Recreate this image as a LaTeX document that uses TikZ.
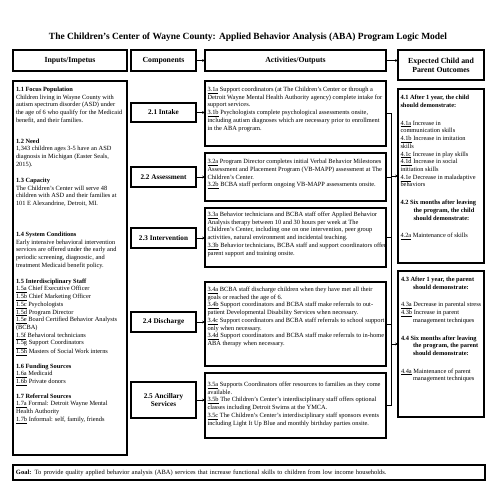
\documentclass[tikz,border=0pt]{standalone}
\usepackage{fontspec}
\setmainfont{Liberation Serif}
\usetikzlibrary{arrows.meta}
\newcommand\myBody{\fontsize{6.4}{7.75}\selectfont}
\newcommand\myHead{\fontsize{7.8}{9}\selectfont\bfseries}
\newcommand\myComp{\fontsize{7.2}{8.4}\selectfont\bfseries}
\newcommand\lbl[1]{\underline{#1}}
\begin{document}
\begin{tikzpicture}[x=1bp,y=-1bp,
  box/.style={draw, line width=1.3bp, inner sep=0pt, outer sep=0pt},
  hdr/.style={box, line width=1.7bp, font=\myHead, align=center},
  comp/.style={box, font=\myComp, align=center, minimum width=65bp},
  actbox/.style={box, minimum width=181bp},
  outbox/.style={box, minimum width=86bp},
  txt/.style={anchor=north west, inner sep=0pt, outer sep=0pt, align=left, font=\myBody},
  conn/.style={line width=0.6bp},
  arr/.style={line width=0.6bp, -{Stealth[length=2.8bp,width=2.6bp]}}]
\fill[white] (0,0) rectangle (495,495);
\useasboundingbox (0,0) rectangle (495,495);

% title
\node[font=\fontsize{9.5}{11}\selectfont\bfseries] (title) at (248,37) {The Children's Center of Wayne County: Applied Behavior Analysis (ABA) Program Logic Model};

% headers
\node[hdr, minimum width=114bp, minimum height=21bp] (hin) at (70,60.5) {Inputs/Impetus};
\node[hdr, minimum width=65bp, minimum height=21bp] (hcomp) at (163.5,60.5) {Components};
\node[hdr, minimum width=181bp, minimum height=21bp] (hact) at (295.5,60.5) {Activities/Outputs};
\node[hdr, minimum width=86bp, minimum height=30bp] (hout) at (441,65) {Expected Child and\\Parent Outcomes};

% inputs column
\node[box, minimum width=114bp, minimum height=374bp] (inp) at (70,268) {};
\node[txt] (t11) at (16,87) {\textbf{1.1 Focus Population}\\Children living in Wayne County with\\autism spectrum disorder (ASD) under\\the age of 6 who qualify for the Medicaid\\benefit, and their families.};
\node[txt] (t12) at (16,138.7) {\textbf{1.2 Need}\\1,343 children ages 3-5 have an ASD\\diagnosis in Michigan (Easter Seals,\\2015).};
\node[txt] (t13) at (16,178) {\textbf{1.3 Capacity}\\The Children's Center will serve 48\\children with ASD and their families at\\101 E Alexandrine, Detroit, MI.};
\node[txt] (t14) at (16,232) {\textbf{1.4 System Conditions}\\Early intensive behavioral intervention\\services are offered under the early and\\periodic screening, diagnostic, and\\treatment Medicaid benefit policy.};
\node[txt] (t15) at (16,278.7) {\textbf{1.5 Interdisciplinary Staff}\\\lbl{1.5a} Chief Executive Officer\\\lbl{1.5b} Chief Marketing Officer\\\lbl{1.5c} Psychologists\\\lbl{1.5d} Program Director\\\lbl{1.5e} Board Certified Behavior Analysts\\(BCBA)\\\lbl{1.5f} Behavioral technicians\\\lbl{1.5g} Support Coordinators\\\lbl{1.5h} Masters of Social Work interns};
\node[txt] (t16) at (16,363.7) {\textbf{1.6 Funding Sources}\\\lbl{1.6a} Medicaid\\\lbl{1.6b} Private donors};
\node[txt] (t17) at (16,393.7) {\textbf{1.7 Referral Sources}\\\lbl{1.7a} Formal: Detroit Wayne Mental\\Health Authority\\\lbl{1.7b} Informal: self, family, friends};

% components
\node[comp, minimum height=19bp] (c1) at (163.5,112.5) {2.1 Intake};
\node[comp, minimum height=20bp] (c2) at (163.5,177) {2.2 Assessment};
\node[comp, minimum height=20bp] (c3) at (163.5,238) {2.3 Intervention};
\node[comp, minimum height=20bp] (c4) at (163.5,322) {2.4 Discharge};
\node[comp, minimum height=36bp] (c5) at (163.5,400) {2.5 Ancillary\\Services};

% activities
\node[actbox, minimum height=65bp] (a1) at (295.5,113.5) {};
\node[actbox, minimum height=48bp] (a2) at (295.5,177) {};
\node[actbox, minimum height=59bp] (a3) at (295.5,237.5) {};
\node[actbox, minimum height=84bp] (a4) at (295.5,324) {};
\node[actbox, minimum height=65bp] (a5) at (295.5,405.5) {};

\node[txt] (ta1) at (207.5,87) {\lbl{3.1a} Support coordinators (at The Children's Center or through a\\Detroit Wayne Mental Health Authority agency) complete intake for\\support services.\\\lbl{3.1b} Psychologists complete psychological assessments onsite,\\including autism diagnoses which are necessary prior to enrollment\\in the ABA program.};
\node[txt] (ta2) at (207.5,159.3) {\lbl{3.2a} Program Director completes initial Verbal Behavior Milestones\\Assessment and Placement Program (VB-MAPP) assessment at The\\Children's Center.\\\lbl{3.2b} BCBA staff perform ongoing VB-MAPP assessments onsite.};
\node[txt] (ta3) at (207.5,212) {\lbl{3.3a} Behavior technicians and BCBA staff offer Applied Behavior\\Analysis therapy between 10 and 30 hours per week at The\\Children's Center, including one on one intervention, peer group\\activities, natural environment and incidental teaching.\\\lbl{3.3b} Behavior technicians, BCBA staff and support coordinators offer\\parent support and training onsite.};
\node[txt] (ta4) at (207.5,287) {\lbl{3.4a} BCBA staff discharge children when they have met all their\\goals or reached the age of 6.\\\lbl{3.4b} Support coordinators and BCBA staff make referrals to out-\\patient Developmental Disability Services when necessary.\\\lbl{3.4c} Support coordinators and BCBA staff referrals to school support\\only when necessary.\\\lbl{3.4d} Support coordinators and BCBA staff make referrals to in-home\\ABA therapy when necessary.};
\node[txt] (ta5) at (207.5,382) {\lbl{3.5a} Supports Coordinators offer resources to families as they come\\available.\\\lbl{3.5b} The Children's Center's interdisciplinary staff offers optional\\classes including Detroit Swims at the YMCA.\\\lbl{3.5c} The Children's Center's interdisciplinary staff sponsors events\\including Light It Up Blue and monthly birthday parties onsite.};

% outcomes
\node[outbox, minimum height=174bp] (oA) at (441,176) {};
\node[outbox, minimum height=146bp] (oB) at (441,344) {};
\node[txt] (toA) at (400.5,95.3) {\textbf{4.1 After 1 year, the child}\\\textbf{should demonstrate:}\\[10pt]\lbl{4.1a} Increase in\\communication skills\\\lbl{4.1b} Increase in imitation\\skills\\\lbl{4.1c} Increase in play skills\\\lbl{4.1d} Increase in social\\initiation skills\\\lbl{4.1e} Decrease in maladaptive\\behaviors\\[10pt]\textbf{4.2 Six months after leaving}\\\hspace*{13bp}\textbf{the program, the child}\\\hspace*{13bp}\textbf{should demonstrate:}\\[10pt]\lbl{4.2a} Maintenance of skills};
\node[txt] (toB) at (401,277) {\textbf{4.3 After 1 year, the parent}\\\hspace*{12bp}\textbf{should demonstrate:}\\[10pt]\lbl{4.3a} Decrease in parental stress\\\lbl{4.3b} Increase in parent\\\hspace*{12bp}management techniques\\[10pt]\textbf{4.4 Six months after leaving}\\\hspace*{12bp}\textbf{the program, the parent}\\\hspace*{12bp}\textbf{should demonstrate:}\\[10pt]\lbl{4.4a} Maintenance of parent\\\hspace*{12bp}management techniques};

% goal
\node[box, line width=1.2bp, minimum width=472bp, minimum height=15bp, text width=466bp, inner xsep=3bp, align=left, font=\fontsize{6.5}{7.5}\selectfont] (goal) at (249,472.5) {\textbf{Goal:} To provide quality applied behavior analysis (ABA) services that increase functional skills to children from low income households.};

% connectors
\draw[arr] (hcomp.east) -- (hact.west);
\draw[arr] (hact.east) -- (hact.east -| hout.west);
\foreach \i in {1,...,5} {
  \draw[arr] (c\i.east) -- (c\i.east -| a\i.west);
}
\coordinate (sp) at (391,100);
\draw[conn] (a1.east) -- (a1.east -| sp) -- (a5.east -| sp) -- (a5.east);
\foreach \i in {2,3,4} {
  \draw[conn] (a\i.east) -- (a\i.east -| sp);
}
\draw[arr] (oA.west -| sp) -- (oA.west);
\draw[arr] (oB.west -| sp) -- (oB.west);
\end{tikzpicture}
\end{document}
